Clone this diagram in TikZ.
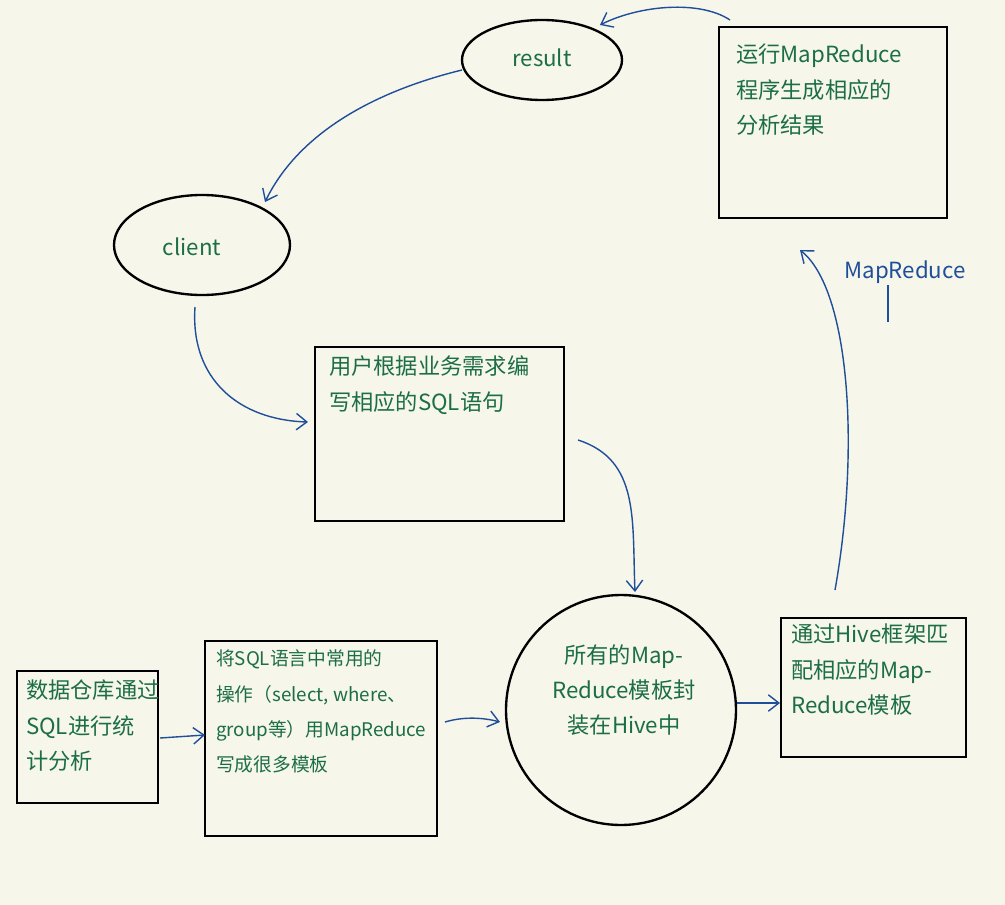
\documentclass[tikz,border=0pt]{standalone}
\usepackage{fontspec}
\setmainfont{Noto Sans CJK SC}
\usetikzlibrary{arrows.meta}
\definecolor{bg}{HTML}{F7F6EA}
\definecolor{ink}{HTML}{1B6E45}
\definecolor{arr}{HTML}{1F4E9A}
\begin{document}
\begin{tikzpicture}[x=0.03cm,y=-0.03cm,
  txt/.style={text=ink,font=\fontsize{19}{30}\selectfont,align=left},
  shp/.style={draw=black,line width=2pt},
  con/.style={draw=arr,line width=1.2pt,-{Straight Barb[length=9pt,width=14pt]}}]
\fill[bg] (0,0) rectangle (1005,905);
\useasboundingbox (0,0) rectangle (1005,905);
\draw[shp] (542,60) ellipse [x radius=80,y radius=40];
\node[txt] (res) at (542,58) {result};
\draw[shp] (202,245) ellipse [x radius=88,y radius=50];
\node[txt] (cli) at (192,247) {client};
\draw[shp] (719,27) rectangle (947,218);
\node[txt,anchor=north west] (run) at (732,40) {运行MapReduce\\程序生成相应的\\分析结果};
\draw[shp] (315,347) rectangle (564,521);
\node[txt,anchor=north west] (usr) at (325,352) {用户根据业务需求编\\写相应的SQL语句};
\draw[shp] (621,710) circle [radius=115];
\node[txt,align=center] (hive) at (624,690) {所有的Map-\\Reduce模板封\\装在Hive中};
\draw[shp] (781,618) rectangle (966,757);
\node[txt,anchor=north west] (match) at (787,620) {通过Hive框架匹\\配相应的Map-\\Reduce模板};
\draw[shp] (17,671) rectangle (158,803);
\node[txt,anchor=north west] (dw) at (22,676) {数据仓库通过\\SQL进行统\\计分析};
\draw[shp] (205,641) rectangle (437,836);
\node[txt,anchor=north west,font=\fontsize{16}{30}\selectfont] (tpl) at (212,646) {将SQL语言中常用的\\操作（select, where、\\group等）用MapReduce\\写成很多模板};
\node[text=arr,font=\fontsize{19}{24}\selectfont] (mrl) at (905,272) {MapReduce};
\draw[arr,line width=1.2pt] (888,285) -- (888,322);
\coordinate (a1) at (730,20); \coordinate (b1) at (600,25);
\draw[con] (a1) .. controls (700,0) and (640,5) .. (b1);
\coordinate (a2) at (462,70); \coordinate (b2) at (265,202);
\draw[con] (a2) .. controls (380,90) and (300,130) .. (b2);
\coordinate (a3) at (195,307); \coordinate (b3) at (308,422);
\draw[con] (a3) .. controls (190,380) and (240,420) .. (b3);
\coordinate (a4) at (578,440); \coordinate (b4) at (635,592);
\draw[con] (a4) .. controls (640,460) and (632,520) .. (b4);
\coordinate (a5) at (160,738); \coordinate (b5) at (205,735);
\draw[con] (a5) -- (b5);
\coordinate (a6) at (445,722); \coordinate (b6) at (500,722);
\draw[con] (a6) .. controls (465,716) and (485,718) .. (b6);
\coordinate (a7) at (737,703); \coordinate (b7) at (780,703);
\draw[con] (a7) -- (b7);
\coordinate (a8) at (835,590); \coordinate (b8) at (800,250);
\draw[con] (a8) .. controls (860,450) and (850,290) .. (b8);
\end{tikzpicture}
\end{document}
